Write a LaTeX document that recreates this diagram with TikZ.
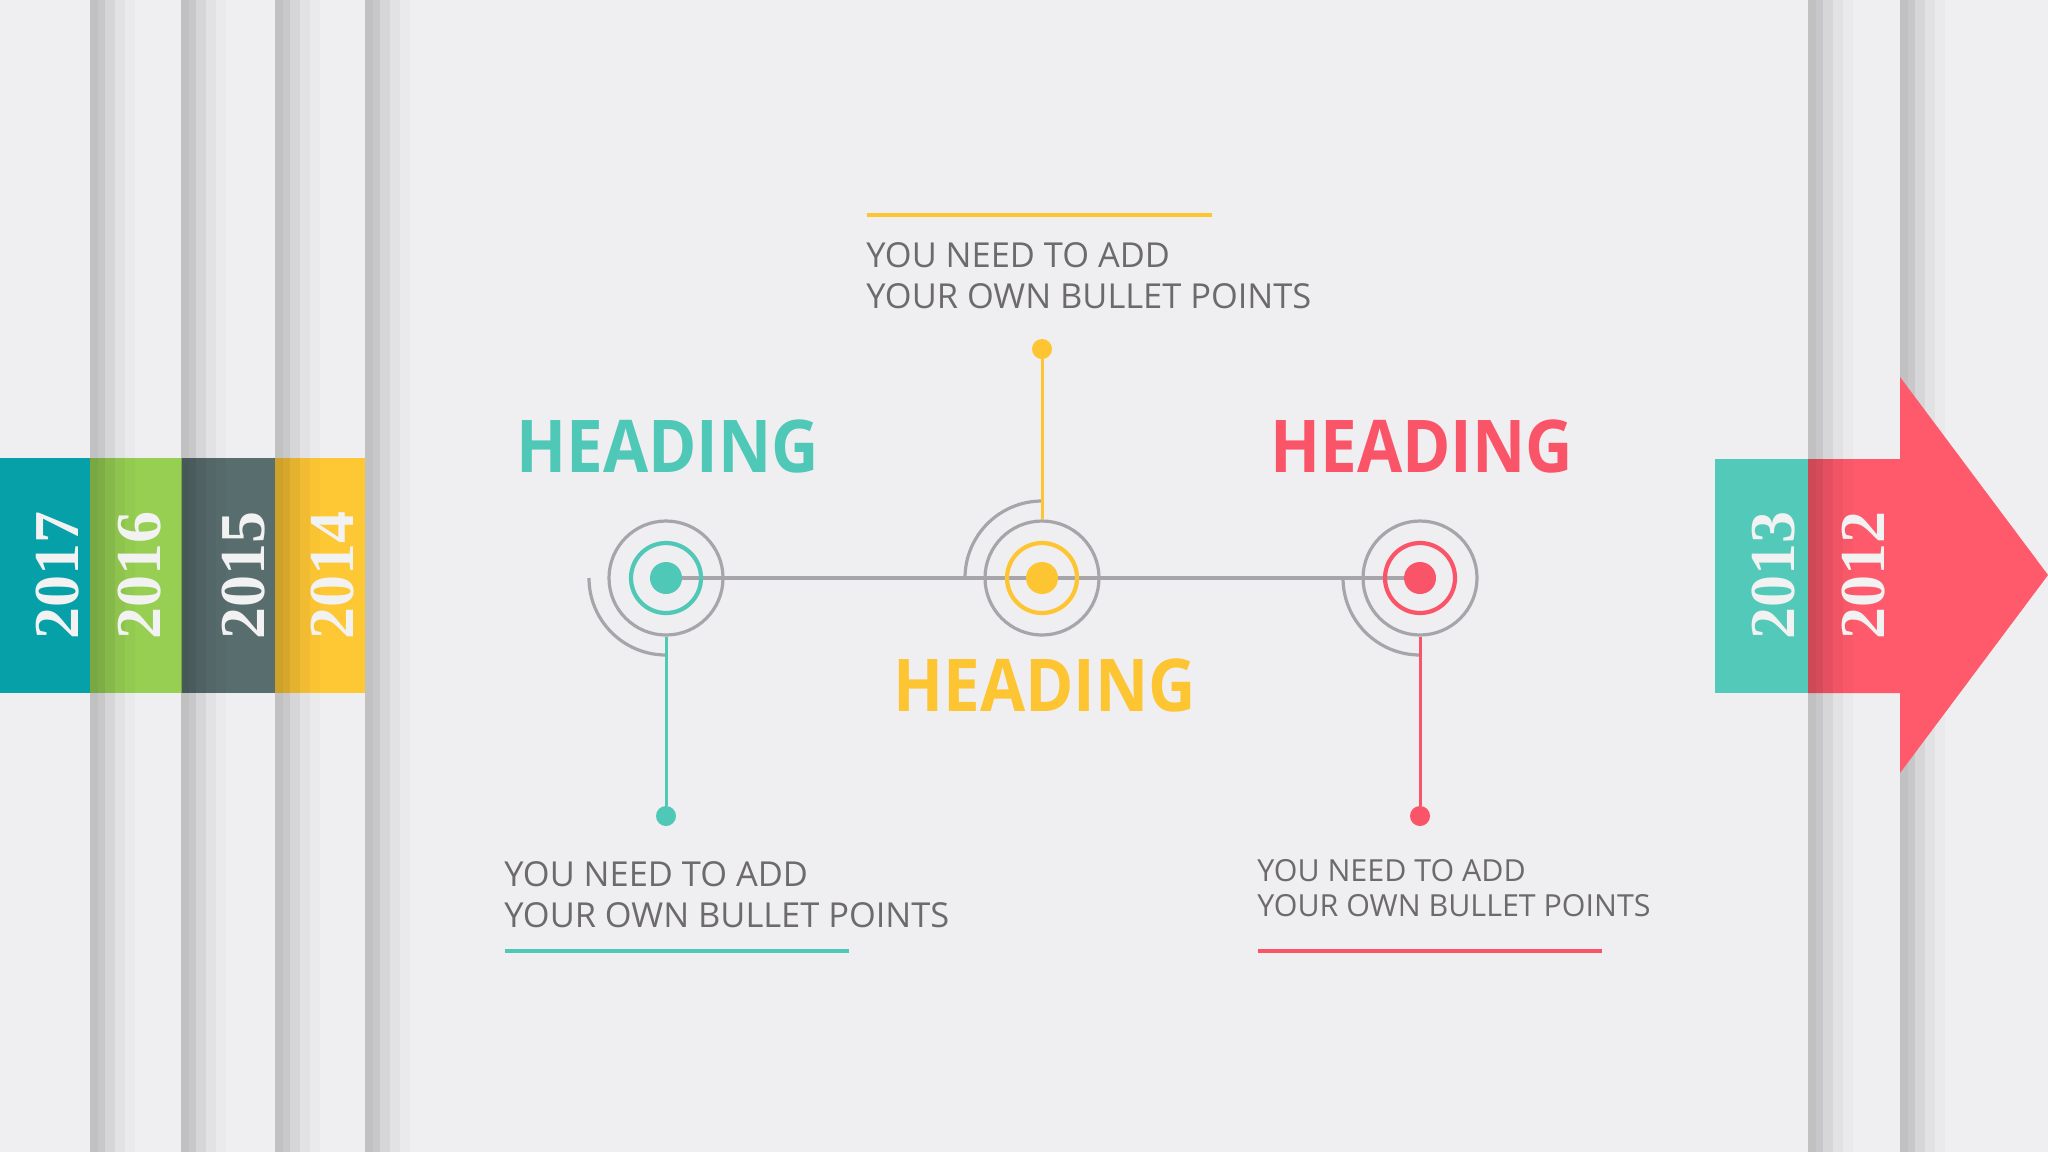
\documentclass[tikz,border=0pt]{standalone}
\usepackage{fontspec}
\setmainfont{Open Sans}
\newfontfamily\yearfont{Liberation Serif}
\newfontfamily\headfont[FakeStretch=0.9]{Open Sans}
\definecolor{bgc}{HTML}{EFEEF0}
\definecolor{c2017}{HTML}{06A0A8}
\definecolor{c2016}{HTML}{96CF52}
\definecolor{c2015}{HTML}{586D6E}
\definecolor{c2014}{HTML}{FEC734}
\definecolor{c2013}{HTML}{52C9B9}
\definecolor{redc}{HTML}{FE5A6B}
\definecolor{tealh}{HTML}{4FC8B7}
\definecolor{yellowh}{HTML}{FEC532}
\definecolor{redh}{HTML}{FA5468}
\definecolor{ringc}{HTML}{A7A5A9}
\definecolor{txtc}{HTML}{6D6A6E}
\definecolor{yeartxt}{HTML}{F2F2F2}
\tikzset{
  vstripe/.pic={
    \fill[black,fill opacity=0.19] (0,0) rectangle (8,1152);
    \fill[black,fill opacity=0.16] (8,0) rectangle (15,1152);
    \fill[black,fill opacity=0.10] (15,0) rectangle (25,1152);
    \fill[black,fill opacity=0.05] (25,0) rectangle (35,1152);
    \fill[black,fill opacity=0.02] (35,0) rectangle (45,1152);
  },
  lightstripe/.pic={
    \fill[black,fill opacity=0.10] (0,0) rectangle (15,1152);
    \fill[black,fill opacity=0.06] (15,0) rectangle (25,1152);
    \fill[black,fill opacity=0.03] (25,0) rectangle (35,1152);
  },
  yearlbl/.style={rotate=90, inner sep=0, text=yeartxt, font=\yearfont\bfseries\fontsize{32}{32}\selectfont},
  outerring/.style={circle, draw=ringc, line width=1.6pt, minimum size=57pt, inner sep=0},
  innerring/.style={circle, draw=#1, line width=2.1pt, minimum size=35pt, inner sep=0},
  bigdot/.style={circle, fill=#1, minimum size=16pt, inner sep=0},
  smalldot/.style={circle, fill=#1, minimum size=10pt, inner sep=0},
  ringarc/.style={draw=ringc, line width=1.6pt},
  stem/.style={draw=#1, line width=1.5pt},
  rule/.style={draw=#1, line width=1.7pt},
  heading/.style={inner sep=0, anchor=base west, text=#1, font=\headfont\bfseries\fontsize{36.4}{36.4}\selectfont},
  bodytxt/.style={inner sep=0, anchor=north west, align=left, text=txtc, font=\fontsize{17.2}{20.5}\selectfont},
  bodysmall/.style={inner sep=0, anchor=north west, align=left, text=txtc, font=\fontsize{15.2}{17.5}\selectfont},
}
\begin{document}
\begin{tikzpicture}[x=0.5pt,y=-0.5pt]
\useasboundingbox (0,0) rectangle (2048,1152);
\fill[bgc] (0,0) rectangle (2048,1152);
% stripe under the arrow head
\pic at (1900,0) {vstripe};
% left year bands
\fill[c2017] (0,458) rectangle (90,693);
\fill[c2016] (90,458) rectangle (182,693);
\fill[c2015] (182,458) rectangle (275,693);
\fill[c2014] (275,458) rectangle (365,693);
% right bands
\fill[c2013] (1715,459) rectangle (1808,693);
\fill[redc] (1808,459) -- (1900,459) -- (1900,377) -- (2048,575) -- (1900,773) -- (1900,693) -- (1808,693) -- cycle;
% stripes over bands
\foreach \sx in {90,181,275,365,1808} { \pic at (\sx,0) {vstripe}; }
% year labels
\node[yearlbl] (y2017) at (58,575) {2017};
\node[yearlbl] (y2016) at (140,575) {2016};
\node[yearlbl] (y2015) at (244,575) {2015};
\node[yearlbl] (y2014) at (333,575) {2014};
\node[yearlbl] (y2013) at (1774,575) {2013};
\node[yearlbl] (y2012) at (1863,575) {2012};
% timeline
\coordinate (tC) at (666,578);
\coordinate (yC) at (1042,578);
\coordinate (rC) at (1420,578);
\draw[draw=ringc, line width=1.6pt] (tC) -- (rC);
% arcs
\coordinate (tA) at (589,578);
\coordinate (yA) at (965,578);
\coordinate (rA) at (1343,578);
\draw[ringarc] (tA) arc[start angle=180, end angle=270, radius=38.5pt];
\draw[ringarc] (yA) arc[start angle=180, end angle=90, radius=38.5pt];
\draw[ringarc] (rA) arc[start angle=180, end angle=270, radius=38.5pt];
% rings
\node[outerring] (tOut) at (tC) {};
\node[innerring=tealh] (tIn) at (tC) {};
\node[bigdot=tealh] (tDot) at (tC) {};
\node[outerring] (yOut) at (yC) {};
\node[innerring=yellowh] (yIn) at (yC) {};
\node[bigdot=yellowh] (yDot) at (yC) {};
\node[outerring] (rOut) at (rC) {};
\node[innerring=redh] (rIn) at (rC) {};
\node[bigdot=redh] (rDot) at (rC) {};
% stems
\node[smalldot=tealh] (tS) at (666,816) {};
\node[smalldot=yellowh] (yS) at (1042,349) {};
\node[smalldot=redh] (rS) at (1420,816) {};
\draw[stem=tealh] (tOut.south) -- (tS);
\draw[stem=yellowh] (yOut.north) -- (yS);
\draw[stem=redh] (rOut.south) -- (rS);
% headings
\node[heading=tealh] (hT) at (516,472) {HEADING};
\node[heading=yellowh] (hY) at (893,711) {HEADING};
\node[heading=redh] (hR) at (1270,472) {HEADING};
% texts
\draw[rule=yellowh] (867,215) -- (1212,215);
\node[bodytxt] (bY) at (866,242) {YOU NEED TO ADD\\YOUR OWN BULLET POINTS};
\node[bodytxt] (bT) at (504,861) {YOU NEED TO ADD\\YOUR OWN BULLET POINTS};
\draw[rule=tealh] (505,951) -- (849,951);
\node[bodysmall] (bR) at (1257,859) {YOU NEED TO ADD\\YOUR OWN BULLET POINTS};
\draw[rule=redh] (1258,951) -- (1602,951);
\end{tikzpicture}
\end{document}
